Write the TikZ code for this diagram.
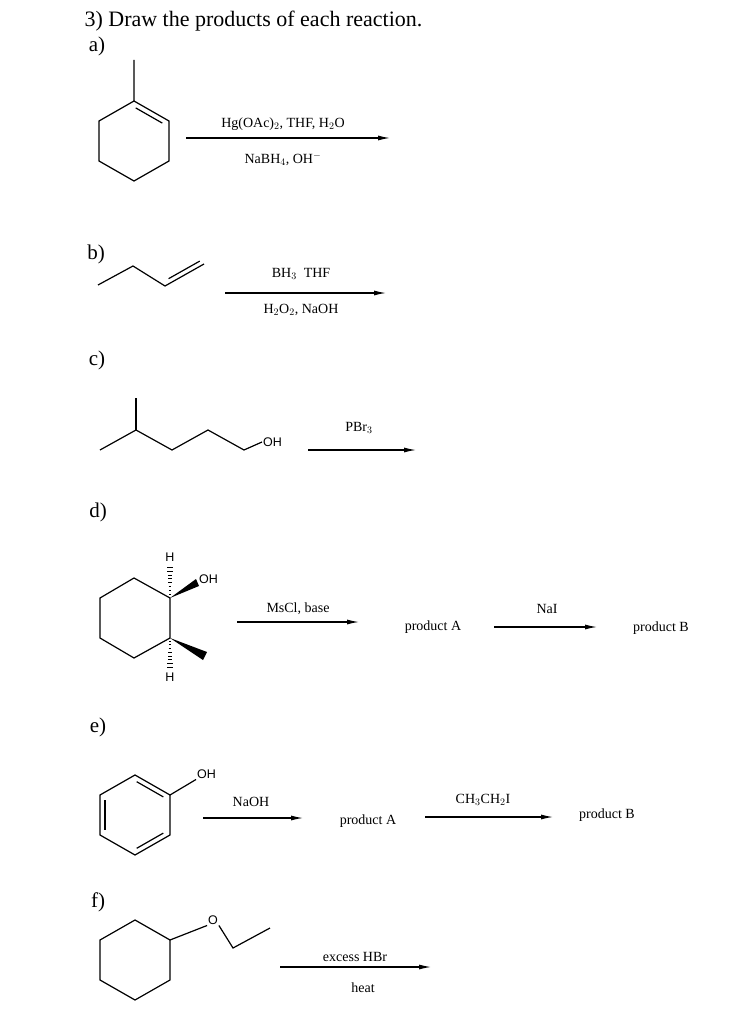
\documentclass[tikz,border=0pt]{standalone}
\usepackage{fontspec}
\setmainfont{Liberation Serif}
\newfontfamily\chemsans{Liberation Sans}
\usetikzlibrary{calc,arrows.meta}
\begin{document}
\begin{tikzpicture}[x=1pt,y=-1pt,line width=1.1pt,
  bond/.style={line width=1.2pt},
  rxn/.style={-{Latex[length=12pt,width=5pt]},line width=1.1pt},
  reag/.style={font=\fontsize{14}{16}\selectfont},
  lbl/.style={font=\fontsize{21}{24}\selectfont},
  atom/.style={font=\chemsans\fontsize{12.5}{14}\selectfont,inner sep=0.5pt}]
\useasboundingbox (0,0) rectangle (735,1024);
\node[anchor=west,font=\fontsize{22}{26}\selectfont,inner sep=0pt] (title) at (84,21) {3) Draw the products of each reaction.};
% a
\node[lbl] (la) at (97,46) {a)};
\coordinate (a1) at (134,101); \coordinate (a2) at (169,121); \coordinate (a3) at (169,161);
\coordinate (a4) at (134,181); \coordinate (a5) at (99,161); \coordinate (a6) at (99,121);
\coordinate (am) at (134,60);
\draw[bond] (a1)--(a2)--(a3)--(a4)--(a5)--(a6)--cycle (a1)--(am);
\draw[bond] ($(a1)!0.12!(a2)+(-2.5,4.5)$) -- ($(a1)!0.88!(a2)+(-2.5,4.5)$);
\coordinate (aa1) at (186,138); \coordinate (aa2) at (390,138);
\draw[rxn] (aa1) -- (aa2);
\node[reag] (ra1) at (283,124) {Hg(OAc)$_2$, THF, H$_2$O};
\node[reag] (ra2) at (283,159) {NaBH$_4$, OH$^{-}$};
% b
\node[lbl] (lb) at (96,254) {b)};
\coordinate (b1) at (98,285); \coordinate (b2) at (133,266); \coordinate (b3) at (165,286); \coordinate (b4) at (204,264);
\draw[bond] (b1)--(b2)--(b3)--(b4);
\draw[bond] ($(b3)!0.15!(b4)+(-2.3,-4)$)--($(b3)!0.95!(b4)+(-2.3,-4)$);
\coordinate (ba1) at (225,293); \coordinate (ba2) at (386,293);
\draw[rxn] (ba1)--(ba2);
\node[reag] (rb1) at (301,274) {BH$_3$\ \ THF};
\node[reag] (rb2) at (301,310) {H$_2$O$_2$, NaOH};
% c
\node[lbl] (lc) at (97,360) {c)};
\coordinate (c1) at (100,450); \coordinate (c2) at (136,430); \coordinate (c0) at (136,398);
\coordinate (c3) at (172,450); \coordinate (c4) at (208,430); \coordinate (c5) at (244,450);
\node[atom,anchor=west] (cOH) at (262,442) {OH};
\draw[bond] (c1)--(c2)--(c3)--(c4)--(c5)--(cOH.west);
\draw[bond] (c2)--(c0);
\coordinate (ca1) at (308,450); \coordinate (ca2) at (416,450);
\draw[rxn] (ca1)--(ca2);
\node[reag] (rc1) at (359,428) {PBr$_3$};
% d
\node[lbl] (ld) at (98,512) {d)};
\coordinate (d1) at (134,578); \coordinate (d2) at (170,598); \coordinate (d3) at (170,638);
\coordinate (d4) at (134,658); \coordinate (d5) at (100,638); \coordinate (d6) at (100,598);
\draw[bond] (d1)--(d2)--(d3)--(d4)--(d5)--(d6)--cycle;
\node[atom] (dH1) at (170,557) {H};
\node[atom] (dH2) at (170,677) {H};
\node[atom,anchor=west] (dOH) at (198,579) {OH};
\foreach \t in {0.1,0.22,...,0.95}{
  \draw[line width=0.8pt] ($(d2)!\t!(170,565)+(-0.5-2.5*\t,0)$)--($(d2)!\t!(170,565)+(0.5+2.5*\t,0)$);
  \draw[line width=0.8pt] ($(d3)!\t!(170,669)+(-0.5-2.5*\t,0)$)--($(d3)!\t!(170,669)+(0.5+2.5*\t,0)$);
}
\fill (d2) -- (196,579) -- (199,586) -- cycle;
\fill (d3) -- (207,652) -- (203,660) -- cycle;
\coordinate (da1) at (237,622); \coordinate (da2) at (359,622);
\draw[rxn] (da1)--(da2);
\node[reag] (rd1) at (298,609) {MsCl, base};
\node[reag] (pdA) at (433,627) {product A};
\coordinate (da3) at (494,627); \coordinate (da4) at (597,627);
\draw[rxn] (da3)--(da4);
\node[reag] (rd2) at (547,609) {NaI};
\node[reag] (pdB) at (661,628) {product B};
% e
\node[lbl] (le) at (98,727) {e)};
\coordinate (e1) at (135,775); \coordinate (e2) at (170,795); \coordinate (e3) at (170,835);
\coordinate (e4) at (135,855); \coordinate (e5) at (100,835); \coordinate (e6) at (100,795);
\draw[bond] (e1)--(e2)--(e3)--(e4)--(e5)--(e6)--cycle;
\draw[bond] ($(e1)!0.12!(e2)+(-2.5,4.3)$)--($(e1)!0.88!(e2)+(-2.5,4.3)$);
\draw[bond] ($(e3)!0.12!(e4)+(-2.5,-4.3)$)--($(e3)!0.88!(e4)+(-2.5,-4.3)$);
\draw[bond] (105,800)--(105,830);
\node[atom,anchor=west] (eOH) at (196,774) {OH};
\draw[bond] (e2)--(eOH.south west);
\coordinate (ea1) at (203,818); \coordinate (ea2) at (303,818);
\draw[rxn] (ea1)--(ea2);
\node[reag] (re1) at (251,802) {NaOH};
\node[reag] (peA) at (368,821) {product A};
\coordinate (ea3) at (425,817); \coordinate (ea4) at (553,817);
\draw[rxn] (ea3)--(ea4);
\node[reag] (re2) at (483,800) {CH$_3$CH$_2$I};
\node[reag] (peB) at (607,815) {product B};
% f
\node[lbl] (lf) at (98,902) {f)};
\coordinate (f1) at (135,920); \coordinate (f2) at (170,940); \coordinate (f3) at (170,980);
\coordinate (f4) at (135,1000); \coordinate (f5) at (100,980); \coordinate (f6) at (100,940);
\draw[bond] (f1)--(f2)--(f3)--(f4)--(f5)--(f6)--cycle;
\node[atom] (fO) at (213,920) {O};
\coordinate (f7) at (233,948); \coordinate (f8) at (270,928);
\draw[bond] (f2)--(fO.south west) (fO.south east)--(f7)--(f8);
\coordinate (fa1) at (280,967); \coordinate (fa2) at (431,967);
\draw[rxn] (fa1)--(fa2);
\node[reag] (rf1) at (355,957) {excess HBr};
\node[reag] (rf2) at (363,988) {heat};
\end{tikzpicture}
\end{document}
